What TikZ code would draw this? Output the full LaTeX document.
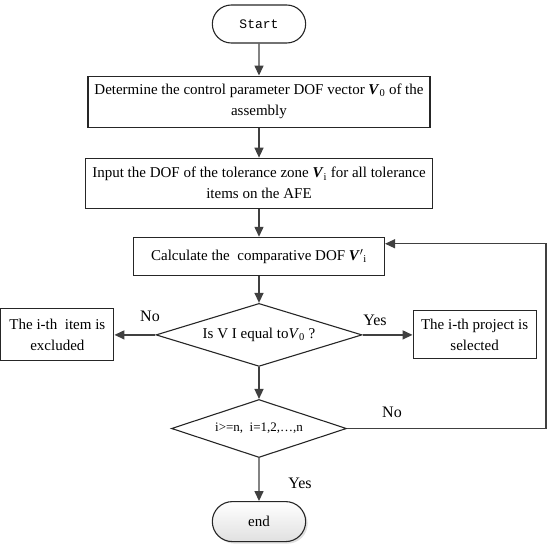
\documentclass[tikz,border=0pt]{standalone}
\usepackage{fontspec}
\setmainfont{Liberation Serif}
\newfontfamily\monofont{Liberation Mono}
\usetikzlibrary{arrows.meta,positioning,shapes.geometric,shapes.misc,shadows}

\newcommand{\bV}[1]{\textbf{\textit{V}}\textsubscript{#1}}

\begin{document}
\begin{tikzpicture}[
  x=1pt, y=1pt,
  font=\fontsize{15}{21}\selectfont,
  box/.style={draw=black!85, line width=1.1pt, align=center, inner sep=2pt},
  pill/.style={rounded rectangle, draw=black!85, line width=1.1pt, minimum width=100pt, minimum height=38pt},
  decision/.style={diamond, draw=black!85, line width=1.1pt, inner sep=0pt, align=center},
  lbl/.style={font=\fontsize{16}{18}\selectfont},
  arr/.style={-{Triangle[length=10pt,width=9pt]}, draw=black!75, line width=1.4pt}
]
  \useasboundingbox (0,0) rectangle (550,-547);

  \node[pill, font=\monofont\fontsize{13}{15}\selectfont] (start) at (259,-24) {Start};
  \node[box, minimum width=342pt, minimum height=51pt, below=32pt of start] (det)
    {Determine the control parameter DOF vector \bV{0} of the\\assembly};
  \node[box, minimum width=347pt, minimum height=50pt, below=30pt of det] (inp)
    {Input the DOF of the tolerance zone \bV{i} for all tolerance\\items on the AFE};
  \node[box, minimum width=251pt, minimum height=38pt, below=28pt of inp] (calc)
    {Calculate the\ \ comparative DOF \textbf{\textit{V\kern1pt$'$}}\textsubscript{i}};
  \node[decision, aspect=3.23, minimum width=206pt, minimum height=63pt, below=27pt of calc] (eq)
    {Is V I equal to\textit{V}\textsubscript{0} ?};
  \node[box, minimum width=113pt, minimum height=52pt, left=41pt of eq] (excl)
    {The i-th\ \ item is\\excluded};
  \node[box, minimum width=123pt, minimum height=48pt, right=50pt of eq] (sel)
    {The i-th project is\\selected};
  \node[decision, aspect=3.0, minimum width=175pt, minimum height=58pt, below=32pt of eq,
        font=\fontsize{13}{14}\selectfont] (cnt)
    {i>=n,\enspace i=1,2,\ldots,n};
  \node[pill, minimum height=40pt, top color=white, bottom color=black!12,
        drop shadow={shadow xshift=2pt, shadow yshift=-2pt, opacity=.25},
        below=43pt of cnt] (end) {end};

  % branch labels
  \node[lbl] (no1) at (150,-316) {No};
  \node[lbl] (yes1) at (375,-320) {Yes};
  \node[lbl] (no2) at (392,-412) {No};
  \node[lbl] (yes2) at (300,-483) {Yes};

  \coordinate (back) at ([xshift=199pt]cnt.east);
  \coordinate (backin) at ([yshift=-7pt]calc.north east);

  \draw[arr] (start) -- (det);
  \draw[arr] (det) -- (inp);
  \draw[arr] (inp) -- (calc);
  \draw[arr] (calc) -- (eq);
  \draw[arr] (eq) -- (excl);
  \draw[arr] (eq) -- (sel);
  \draw[arr] (eq) -- (cnt);
  \draw[arr] (cnt) -- (end);
  \draw[arr] (cnt.east) -- (back) |- (backin);
\end{tikzpicture}
\end{document}
